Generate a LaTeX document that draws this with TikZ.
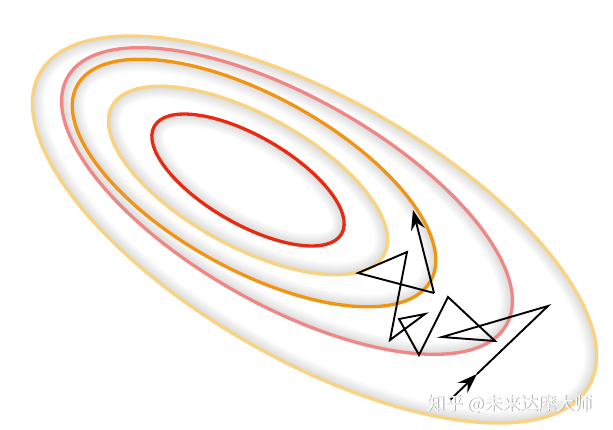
\documentclass[tikz,border=0pt]{standalone}
\usepackage{fontspec}
\newfontfamily\cjk{Noto Sans CJK SC}
\usetikzlibrary{arrows.meta}

\definecolor{ringyellow}{RGB}{249,211,128}
\definecolor{ringpink}{RGB}{240,135,132}
\definecolor{ringorange}{RGB}{242,148,18}
\definecolor{ringred}{RGB}{232,42,18}

\tikzset{
	contour/.style={line width=3.3pt},
	stepline/.style={black, line width=1.9pt, line join=miter},
	steptip/.style={-{Stealth[length=20pt,width=14pt,inset=7pt]}},
	mark text/.style={font=\cjk\fontsize{18}{18}\selectfont, inner sep=0pt}
}

% level curve: centre x, centre y, tilt, half axes, colour
\newcommand{\levelcurve}[6]{%
	\begin{scope}[shift={(#1,#2)}, rotate=-#3]
		\begin{scope}
			\clip (0,0) ellipse [x radius=#4pt, y radius=#5pt];
			\foreach \w in {3,5,...,25}
				\draw[black, opacity=0.013, line width=\w pt] (0,0) ellipse [x radius=#4pt, y radius=#5pt];
		\end{scope}
		\draw[contour, #6] (0,0) ellipse [x radius=#4pt, y radius=#5pt];
	\end{scope}}

\begin{document}
\begin{tikzpicture}[x=1pt, y=-1pt]
	\useasboundingbox[fill=white] (0,0) rectangle (613,429);
	
	% curvas de nivel, de fuera hacia dentro
	\levelcurve{314.5}{229.5}{29.7}{316}{131}{ringyellow}
	\levelcurve{287}{201}{29.4}{252}{104}{ringpink}
	\levelcurve{254}{183}{28.9}{202}{87}{ringorange}
	\levelcurve{248}{180.5}{28.7}{155}{66}{ringyellow}
	\levelcurve{248}{180}{29.9}{108}{44}{ringred}
	
	% pasos del descenso
	\coordinate (s0) at (450,400);
	\coordinate (s1) at (477,374);
	\coordinate (s2) at (548,306);
	\coordinate (s3) at (442,337);
	\coordinate (s4) at (495,341);
	\coordinate (s5) at (448,297);
	\coordinate (s6) at (419,355);
	\coordinate (s7) at (399,319);
	\coordinate (s8) at (425,314);
	\coordinate (s9) at (390,340);
	\coordinate (s10) at (407,252);
	\coordinate (s11) at (358,273);
	\coordinate (s12) at (434,293);
	\coordinate (s13) at (413,210);
	
	\draw[stepline, steptip] (s0) -- (s1);
	\draw[stepline] (s1) -- (s2) -- (s3) -- (s4) -- (s5) -- (s6) -- (s7)
		-- (s8) -- (s9) -- (s10) -- (s11) -- (s12);
	\draw[stepline, steptip] (s12) -- (s13);
	
	% marca de agua
	\node[mark text, text=black!35] (wmshadow) at (510.8,404.8) {知乎 @未来达摩大师};
	\node[mark text, text=white] (wm) at (510,404) {知乎 @未来达摩大师};
	
\end{tikzpicture}
\end{document}
